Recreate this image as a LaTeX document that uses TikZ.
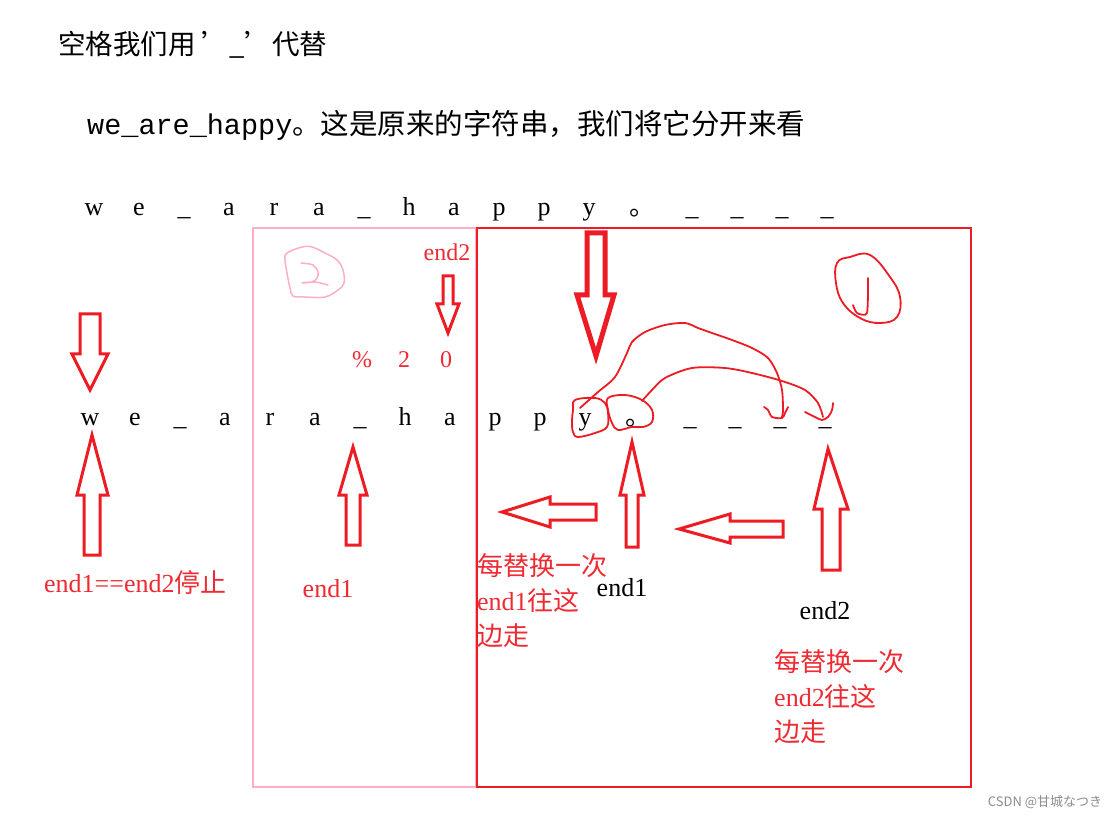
\documentclass[tikz,border=0pt]{standalone}
\usepackage{fontspec}
\setmainfont{Liberation Serif}
\setmonofont{Liberation Mono}
\newfontfamily\cjk{Noto Sans CJK SC}
\usetikzlibrary{positioning}
\definecolor{paintred}{HTML}{ED1C24}
\definecolor{paintpink}{HTML}{FFAEC9}
\definecolor{textred}{HTML}{EE2A33}

\begin{document}
\begin{tikzpicture}[x=1pt, y=-1pt,
    chr/.style={anchor=base, inner sep=0pt, font=\fontsize{26}{30}\selectfont},
    redtxt/.style={anchor=base, inner sep=0pt, text=textred, font=\fontsize{26}{30}\selectfont},
    note/.style={anchor=base west, inner sep=0pt, text=textred, align=left,
                 font=\fontsize{26}{35}\selectfont},
    blkarr/.style={draw=paintred, line width=3pt, line join=miter},
    scrib/.style={draw=paintred, line width=1.8pt, line cap=round, line join=round}]
    \useasboundingbox[fill=white] (0,0) rectangle (1120,818);
    % headings
    \node[anchor=base west, inner sep=0pt, font=\fontsize{27.5}{30}\selectfont\cjk] (title) at (58,55) {空格我们用 ’\_’代替};
    \node[anchor=base west, inner sep=0pt, font=\fontsize{28.5}{32}\selectfont] (orig) at (87,135)
      {\ttfamily we\_are\_happy{\cjk 。这是原来的字符串，我们将它分开来看}};
    % the two rows of characters
    \foreach \c [count=\i from 0] in {w,e,\textunderscore,a,r,a,\textunderscore,h,a,p,p,y}
      \node[chr] (top\i) at ({94+45*\i},216) {\c};
    \node[chr, font=\fontsize{26}{30}\selectfont\cjk] (topdot) at (642,216) {。};
    \foreach \j in {0,...,3}
      \node[chr] (topsp\j) at ({692+45*\j},216) {\textunderscore};
    \foreach \c [count=\i from 0] in {w,e,\textunderscore,a,r,a,\textunderscore,h,a,p,p,y}
      \node[chr] (bot\i) at ({90+45*\i},425) {\c};
    \node[chr, font=\fontsize{26}{30}\selectfont\cjk] (botdot) at (638,425) {。};
    \foreach \j in {0,...,3}
      \node[chr] (botsp\j) at ({690+45*\j},425) {\textunderscore};
    % boxes
    \draw[paintpink, line width=1.2pt] (253,228) rectangle (476,787);
    \draw[paintred, line width=1.2pt] (477,228) rectangle (971,787);
    % hollow arrows
    \draw[blkarr] (80,314) -- (100,314) -- (100,354) -- (108,354) -- (90,390) -- (72,354) -- (80,354) -- cycle;
    \draw[blkarr] (84,555) -- (84,495) -- (77,495) -- (92,435) -- (108,495) -- (100,495) -- (100,555) -- cycle;
    \draw[blkarr] (346,545) -- (346,495) -- (339,495) -- (353,447) -- (367,495) -- (360,495) -- (360,545) -- cycle;
    \draw[blkarr] (443,276) -- (453,276) -- (453,304) -- (459,304) -- (448,333) -- (437,304) -- (443,304) -- cycle;
    \draw[blkarr, line width=5pt] (587,233) -- (605,233) -- (605,295) -- (614,295) -- (596,356) -- (577,295) -- (587,295) -- cycle;
    \draw[blkarr] (596,504) -- (596,520) -- (550,520) -- (550,527) -- (502,512) -- (550,497) -- (550,504) -- cycle;
    \draw[blkarr] (626,547) -- (626,495) -- (620,495) -- (632,442) -- (644,495) -- (638,495) -- (638,547) -- cycle;
    \draw[blkarr] (783,521) -- (783,537) -- (730,537) -- (730,543) -- (679,529) -- (730,514) -- (730,521) -- cycle;
    \draw[blkarr] (822,570) -- (822,509) -- (814,509) -- (828,449) -- (848,509) -- (840,509) -- (840,570) -- cycle;
    % labels
    \node[redtxt, font=\fontsize{24}{28}\selectfont] (end2top) at (447,261) {end2};
    \node[redtxt, font=\fontsize{24}{28}\selectfont] (pct) at (362,368) {\%};
    \node[redtxt, font=\fontsize{24}{28}\selectfont] (two) at (404,368) {2};
    \node[redtxt, font=\fontsize{24}{28}\selectfont] (zero) at (446,368) {0};
    \node[redtxt, anchor=base west] (stop) at (44,592) {end1==end2{\cjk 停止}};
    \node[redtxt] (end1red) at (328,597) {end1};
    \node[note] (note1) at (477,645) {{\cjk 每替换一次}\\end1{\cjk 往这}\\{\cjk 边走}};
    \node[redtxt, text=black] (end1blk) at (622,596) {end1};
    \node[redtxt, text=black] (end2blk) at (825,619) {end2};
    \node[note] (note2) at (774,741) {{\cjk 每替换一次}\\end2{\cjk 往这}\\{\cjk 边走}};
    % scribbles
    \draw[scrib, paintpink, line width=1.5pt] plot[smooth cycle, tension=0.6] coordinates {(287,253) (302,247) (312,247) (325,253) (337,260) (343,270) (344,283) (338,290) (325,297) (305,297) (293,296) (290,288) (287,273) (285,260)};
    \draw[scrib, paintpink, line width=1.5pt] plot[smooth, tension=0.6] coordinates {(301,263) (313,265) (318,272) (317,278) (312,282) (302,283) (315,282) (328,285)};
    \draw[scrib] plot[smooth cycle, tension=0.7] coordinates {(837,263) (850,257) (870,255) (890,277) (900,297) (897,317) (880,323) (860,318) (843,303) (836,283)};
    \draw[scrib] plot[smooth, tension=0.4] coordinates {(868,278) (867,313) (857,313) (853,305)};
    \draw[scrib] plot[smooth cycle, tension=0.6] coordinates {(575,400) (595,398) (605,403) (608,413) (607,427) (595,433) (578,437) (573,432) (572,422) (573,410)};
    \draw[scrib] plot[smooth cycle, tension=0.6] coordinates {(608,398) (625,395) (642,400) (652,410) (652,422) (643,427) (632,427) (618,430) (612,423) (608,410)};
    \draw[scrib] plot[smooth, tension=0.5] coordinates {(580,408) (598,392) (615,377) (627,353) (632,342) (645,332) (665,325) (685,323) (698,328) (712,333) (732,340) (752,348) (768,358) (777,373) (782,390) (783,410) (782,417)};
    \draw[scrib] plot[smooth, tension=0.5] coordinates {(764,407) (768,410) (772,417) (782,418) (785,413) (788,407)};
    \draw[scrib] plot[smooth, tension=0.5] coordinates {(642,401) (652,390) (665,378) (692,368) (725,368) (752,373) (782,381) (805,390) (818,403) (823,417)};
    \draw[scrib] plot[smooth, tension=0.5] coordinates {(805,412) (815,417) (822,420) (828,417) (832,410) (833,403)};
    % watermark
    \node[anchor=base, inner sep=0pt, text=black!45, font=\fontsize{13}{15}\selectfont\cjk] (mark1) at (1045,806) {CSDN @甘城なつき};
\end{tikzpicture}
\end{document}
